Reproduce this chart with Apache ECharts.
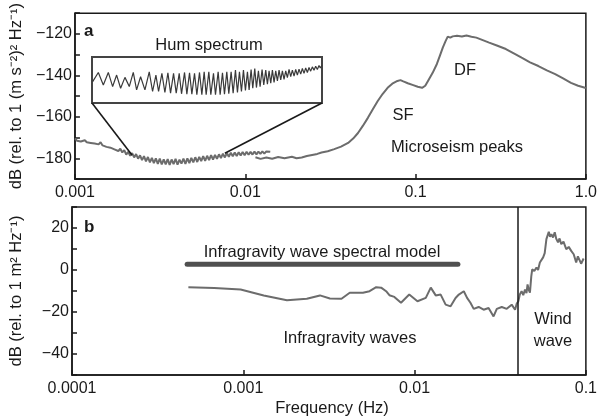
<!DOCTYPE html>
<html>
<head>
<meta charset="utf-8">
<script src="https://cdn.jsdelivr.net/npm/echarts@6/dist/echarts.min.js"></script>
<style>
  html, body { margin: 0; padding: 0; background: #fff; }
  #chart { width: 600px; height: 420px; }
</style>
</head>
<body>
<div id="chart"></div>
<script>
// Panel a: seismic spectrum, low-frequency hum part (noisy band)
const humBandFreq = [0.0010000, 0.0010270, 0.0010548, 0.0010833, 0.0011126, 0.0011427, 0.0011736, 0.0012053,
  0.0012379, 0.0012714, 0.0013057, 0.0013410, 0.0013772, 0.0014145, 0.0014527, 0.0014920, 0.0015323, 0.0015737,
  0.0016163, 0.0016600, 0.0017048, 0.0017509, 0.0017983, 0.0018469, 0.0018968, 0.0019481, 0.0020007, 0.0020548,
  0.0021103, 0.0021674, 0.0022260, 0.0022861, 0.0023479, 0.0024114, 0.0024766, 0.0025435, 0.0026123, 0.0026829,
  0.0027554, 0.0028299, 0.0029064, 0.0029850, 0.0030657, 0.0031485, 0.0032336, 0.0033211, 0.0034108, 0.0035030,
  0.0035977, 0.0036950, 0.0037949, 0.0038975, 0.0040028, 0.0041110, 0.0042222, 0.0043363, 0.0044535, 0.0045739,
  0.0046976, 0.0048246, 0.0049550, 0.0050889, 0.0052265, 0.0053678, 0.0055129, 0.0056619, 0.0058150, 0.0059722,
  0.0061336, 0.0062994, 0.0064697, 0.0066446, 0.0068242, 0.0070087, 0.0071982, 0.0073928, 0.0075927, 0.0077979,
  0.0080087, 0.0082252, 0.0084476, 0.0086759, 0.0089105, 0.0091514, 0.0093988, 0.0096528, 0.0099138, 0.010182,
  0.010457, 0.010740, 0.011030, 0.011328, 0.011635, 0.011949, 0.012272, 0.012604, 0.012945, 0.013295,
  0.013654, 0.014023];
const humBandDb = [-170.4, -171.5, -170.8, -171.9, -171.0, -171.3, -172.3, -171.4,
  -172.6, -171.7, -172.9, -172.0, -173.3, -172.3, -173.8, -173.0, -174.5, -173.6,
  -174.9, -174.0, -175.7, -174.8, -176.5, -175.4, -177.2, -176.1, -178.2, -176.9,
  -178.8, -177.5, -179.6, -178.0, -180.2, -178.6, -180.9, -179.0, -181.5, -179.4,
  -182.0, -179.8, -182.3, -180.0, -182.7, -180.2, -183.0, -180.5, -182.9, -180.4,
  -183.2, -180.6, -182.8, -180.3, -183.1, -180.7, -182.6, -180.2, -182.7, -180.0,
  -182.3, -179.8, -182.0, -179.5, -181.8, -179.3, -181.4, -179.0, -181.2, -178.8,
  -180.9, -178.5, -180.6, -178.4, -180.3, -178.1, -179.9, -177.8, -179.6, -177.5,
  -179.3, -177.3, -179.0, -177.2, -178.9, -177.1, -178.7, -177.0, -178.5, -176.9,
  -178.3, -176.9, -178.2, -176.8, -178.1, -176.8, -177.9, -176.7, -177.8, -176.7,
  -177.6, -176.9];

// Panel a: microseism part
const microFreq = [0.01148, 0.01230, 0.01330, 0.01439, 0.01560, 0.01700, 0.01879, 0.02000, 0.02146,
  0.02300, 0.02470, 0.02650, 0.02805, 0.03050, 0.03333, 0.03650, 0.04018, 0.04300, 0.04592, 0.04900,
  0.05248, 0.05600, 0.05997, 0.06400, 0.06853, 0.07300, 0.07824, 0.08150, 0.08474, 0.09000, 0.09683,
  0.1030, 0.1092, 0.1140, 0.1183, 0.1260, 0.1334, 0.1390, 0.1445, 0.1500, 0.1545, 0.1600, 0.1651,
  0.1750, 0.1870, 0.1990, 0.2130, 0.2274, 0.2480, 0.2704, 0.3000, 0.3390, 0.3750, 0.4195, 0.4700,
  0.5262, 0.5900, 0.6603, 0.7350, 0.8177, 0.9000, 1.0];
const microDb = [-179.5, -180.3, -179.6, -180.2, -179.4, -180.0, -179.3, -180.0, -179.6,
  -178.9, -178.4, -177.9, -177.2, -176.6, -175.6, -174.4, -172.6, -170.5, -167.8, -164.4,
  -160.5, -156.5, -152.4, -149.0, -146.0, -144.0, -142.7, -142.3, -142.9, -143.8, -144.7,
  -145.5, -146.0, -145.0, -142.7, -138.8, -134.5, -130.5, -126.6, -123.5, -121.3, -121.8, -121.2,
  -120.9, -121.3, -120.8, -121.4, -121.8, -123.0, -124.2, -125.6, -127.3, -129.3, -131.5, -133.7,
  -135.5, -137.6, -139.4, -141.5, -143.6, -145.0, -146.1];

// Inset: hum spectrum (arbitrary units)
const humInsetX = [2, 19, 34, 49, 62, 74, 86, 99, 112, 124, 134, 146, 159, 172, 182, 192, 200, 210,
  219, 228, 236, 245, 253, 262, 269, 278, 285, 293, 300, 308, 315, 323, 330, 337, 343, 351, 357, 365,
  371, 379, 385, 392, 398, 405, 411, 418, 424, 431, 437, 443, 449, 455, 461, 467, 472, 478, 483, 489,
  494, 500, 505, 511, 516, 522, 527, 532, 537, 542, 547, 552, 557, 562, 567, 572, 577, 582, 587, 592,
  597, 602, 607, 612, 617, 622, 627, 632, 637, 642, 647, 652, 657, 662, 667, 672, 677, 682, 686, 691];
const humInsetLevel = [65, 93, 55, 93, 50, 85, 45, 78, 50, 93, 40, 80, 40, 95, 35, 85, 35, 90,
  32, 92, 30, 90, 30, 90, 28, 93, 27, 92, 27, 90, 25, 93, 25, 95, 25, 95, 25, 90,
  25, 95, 25, 92, 27, 95, 28, 95, 30, 100, 32, 95, 35, 100, 38, 95, 40, 102, 45, 105,
  47, 98, 50, 102, 55, 100, 57, 98, 60, 100, 63, 98, 67, 100, 70, 98, 72, 98, 77, 102,
  80, 100, 82, 102, 85, 103, 88, 105, 90, 107, 93, 108, 97, 110, 100, 112, 102, 114, 107, 115];

// Panel b: ocean bottom pressure spectrum
const waveFreq = [0.000478, 0.000676, 0.000965, 0.001316, 0.001798, 0.002348, 0.002803, 0.003203,
  0.003744, 0.004182, 0.004994, 0.005460, 0.005969, 0.006380, 0.006820, 0.007127, 0.007618, 0.008331,
  0.009305, 0.010394, 0.011627, 0.012431, 0.013285, 0.014203, 0.015182, 0.016228, 0.017346, 0.018127,
  0.019378, 0.020248, 0.021184, 0.022135, 0.023662, 0.025293, 0.027040, 0.028904, 0.030200, 0.032283,
  0.034509, 0.036889, 0.038599, 0.039500, 0.040334, 0.041200, 0.042150, 0.043100, 0.044109, 0.045000,
  0.045660, 0.046400, 0.047146, 0.048000, 0.048614, 0.050000, 0.051481, 0.052600, 0.053869, 0.055000,
  0.056293, 0.057500, 0.058823, 0.059800, 0.060735, 0.061800, 0.062881, 0.064300, 0.065794, 0.067200,
  0.068752, 0.070200, 0.071844, 0.074000, 0.076793, 0.079400, 0.082099, 0.084900, 0.087775, 0.089800,
  0.091821, 0.093800, 0.095955, 0.097000];
const waveDb = [-8.2, -8.6, -9.3, -12.1, -14.4, -13.7, -12.1, -13.6,
  -13.7, -10.8, -10.8, -10.1, -8.2, -8.4, -10.1, -12.0, -12.8, -15.6,
  -11.7, -14.9, -13.3, -8.4, -12.1, -11.7, -16.5, -17.3, -13.3, -11.7,
  -10.1, -13.3, -15.6, -18.5, -17.6, -18.9, -18.1, -22.1, -18.5, -17.6,
  -18.5, -16.5, -18.9, -16.0, -14.9, -11.5, -10.1, -12.0, -9.3, -11.0,
  -6.9, -9.5, -10.8, -3.0, 0.3, -0.5, 1.2, 0.0, 3.6, 2.8,
  6.0, 8.0, 14.7, 16.5, 18.2, 15.8, 17.1, 15.5, 18.0, 14.8,
  13.2, 15.0, 12.3, 13.5, 9.9, 11.0, 9.1, 7.5, 3.6, 6.5,
  6.0, 3.0, 3.6, 5.5];

// Infragravity wave spectral model (flat level over its band)
const modelFreq = [0.00047, 0.0179];
const modelDb = [2.7, 2.7];
const windWaveCut = 0.04;

const aTickLabels = ['0.001', '0.01', '0.1', '1.0'];
const bTickLabels = ['0.0001', '0.001', '0.01', '0.1'];

const FONT = '"Liberation Sans", Arial, Helvetica, sans-serif';
const CURVE = '#6c6c6c';
const INK = '#1a1a1a';

const pair = (xs, ys) => xs.map((x, i) => [x, ys[i]]);

function logAxis(grid, min, labels) {
  return {
    type: 'log', logBase: 10, gridIndex: grid, min: min, max: min * 1000,
    axisLine: { show: true, onZero: false, lineStyle: { color: INK, width: 1.5 } },
    axisTick: { show: true, inside: true, length: 5, lineStyle: { color: INK, width: 1.5 } },
    axisLabel: {
      fontFamily: FONT, fontSize: 16, color: INK, margin: 6,
      formatter: v => labels[Math.round(Math.log10(v / min))] || ''
    },
    splitLine: { show: false }
  };
}

function dbAxis(grid, min, max, name) {
  return {
    type: 'value', gridIndex: grid, min: min, max: max, interval: 10,
    name: name, nameLocation: 'middle', nameRotate: 90, nameGap: 47,
    nameTextStyle: { fontFamily: FONT, fontSize: 16.5, color: INK },
    axisLine: { show: true, onZero: false, lineStyle: { color: INK, width: 1.5 } },
    axisTick: { show: true, inside: true, length: 5, lineStyle: { color: INK, width: 1.5 } },
    axisLabel: {
      fontFamily: FONT, fontSize: 16, color: INK, margin: 3,
      formatter: v => (v % 20 === 0 ? String(v).replace('-', '\u2212') : '')
    },
    splitLine: { show: false }
  };
}

const chart = echarts.init(document.getElementById('chart'), null, { renderer: 'canvas' });

const textStyle = (extra) => Object.assign({ fontFamily: FONT, fontSize: 16.5, fill: INK, align: 'center', verticalAlign: 'middle' }, extra);

const labels = [
  { type: 'text', left: 84, top: 23, style: textStyle({ text: 'a', fontWeight: 'bold', fontSize: 17, align: 'left', verticalAlign: 'top' }) },
  { type: 'text', left: 84, top: 219, style: textStyle({ text: 'b', fontWeight: 'bold', fontSize: 17, align: 'left', verticalAlign: 'top' }) },
  { type: 'text', x: 209, y: 45, style: textStyle({ text: 'Hum spectrum' }) },
  { type: 'text', x: 403, y: 115, style: textStyle({ text: 'SF' }) },
  { type: 'text', x: 465, y: 70, style: textStyle({ text: 'DF' }) },
  { type: 'text', x: 457, y: 147, style: textStyle({ text: 'Microseism peaks' }) },
  { type: 'text', x: 322, y: 252, style: textStyle({ text: 'Infragravity wave spectral model' }) },
  { type: 'text', x: 350, y: 338, style: textStyle({ text: 'Infragravity waves' }) },
  { type: 'text', x: 553, y: 319, style: textStyle({ text: 'Wind' }) },
  { type: 'text', x: 553, y: 341, style: textStyle({ text: 'wave' }) },
  { type: 'text', x: 332, y: 408, style: textStyle({ text: 'Frequency (Hz)' }) }
];

chart.setOption({
  animation: false,
  backgroundColor: '#fff',
  grid: [
    { left: 70, top: 13, width: 518, height: 166, show: true, borderColor: INK, borderWidth: 1.5 },
    { left: 70, top: 207, width: 518, height: 168, show: true, borderColor: INK, borderWidth: 1.5 },
    { left: 92, top: 57, width: 230, height: 46, show: true, borderColor: '#444', borderWidth: 2, backgroundColor: '#fff' }
  ],
  xAxis: [
    logAxis(0, 0.001, aTickLabels),
    logAxis(1, 0.0001, bTickLabels),
    { type: 'value', gridIndex: 2, min: 0, max: 691, show: false }
  ],
  yAxis: [
    dbAxis(0, -190, -110, 'dB (rel. to 1 (m s\u207B\u00B2)\u00B2 Hz\u207B\u00B9)'),
    dbAxis(1, -50, 30, 'dB (rel. to 1 m\u00B2 Hz\u207B\u00B9)'),
    { type: 'value', gridIndex: 2, min: 0, max: 140, show: false }
  ],
  series: [
    {
      type: 'line', xAxisIndex: 0, yAxisIndex: 0, symbol: 'none',
      data: pair(humBandFreq, humBandDb),
      lineStyle: { color: CURVE, width: 2 }
    },
    {
      type: 'line', xAxisIndex: 0, yAxisIndex: 0, symbol: 'none',
      data: pair(microFreq, microDb),
      lineStyle: { color: CURVE, width: 2 }
    },
    {
      type: 'line', xAxisIndex: 1, yAxisIndex: 1, symbol: 'none',
      data: pair(waveFreq, waveDb),
      lineStyle: { color: CURVE, width: 2 },
      markLine: {
        silent: true, symbol: 'none', label: { show: false },
        lineStyle: { color: INK, width: 1.5, type: 'solid' },
        data: [{ xAxis: windWaveCut }]
      }
    },
    {
      type: 'line', xAxisIndex: 1, yAxisIndex: 1, symbol: 'none',
      data: pair(modelFreq, modelDb),
      lineStyle: { color: '#505050', width: 5, cap: 'round' }
    },
    {
      type: 'line', xAxisIndex: 2, yAxisIndex: 2, symbol: 'none',
      data: pair(humInsetX, humInsetLevel),
      lineStyle: { color: '#3a3a3a', width: 1.2 }
    }
  ],
  graphic: labels
});

// connectors from the inset box to the hum band on the main curve
const boxLeft = chart.convertToPixel({ xAxisIndex: 2, yAxisIndex: 2 }, [0, 0]);
const boxRight = chart.convertToPixel({ xAxisIndex: 2, yAxisIndex: 2 }, [691, 0]);
const humStart = chart.convertToPixel({ xAxisIndex: 0, yAxisIndex: 0 }, [0.002167, -178.5]);
const humEnd = chart.convertToPixel({ xAxisIndex: 0, yAxisIndex: 0 }, [0.00759, -177.6]);

const connector = (a, b) => ({
  type: 'line', z: 50,
  shape: { x1: a[0], y1: a[1], x2: b[0], y2: b[1] },
  style: { stroke: INK, lineWidth: 1.6 }
});

chart.setOption({
  graphic: labels.concat([connector(boxLeft, humStart), connector(boxRight, humEnd)])
}, { replaceMerge: ['graphic'] });
</script>
</body>
</html>
